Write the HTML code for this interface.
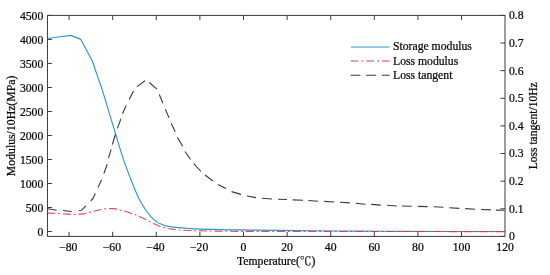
<!DOCTYPE html>
<html lang="en"><head><meta charset="utf-8"><title>DMA curves</title>
<style>html,body{margin:0;padding:0;background:#fff}body{width:550px;height:275px;overflow:hidden}svg{display:block}</style>
</head><body>
<svg width="550" height="275" viewBox="0 0 550 275" font-family="'Liberation Serif', 'Noto Serif CJK SC', serif" font-size="11.7" fill="#0a0a0a" stroke="#0a0a0a" stroke-width="0.24">
<rect width="550" height="275" fill="#fff" stroke="none"/>
<path d="M47.5,38.5 L58.5,37.0 L70.7,35.4 L80.8,39.4 L92.2,60.8 L102.4,90.4 L113.0,125.4 C114.8,131.2 120.2,149.8 123.8,160.4 C127.4,171.0 132.0,182.3 134.7,189.0 C137.4,195.7 138.2,197.1 140.0,200.6 C141.8,204.1 143.8,207.1 145.6,209.8 C147.4,212.5 149.2,214.8 151.0,216.8 C152.8,218.8 154.8,220.3 156.5,221.6 C158.2,222.8 159.7,223.6 161.5,224.3 C163.3,225.1 165.6,225.7 167.4,226.1 C169.2,226.5 170.7,226.8 172.5,227.0 C174.3,227.2 175.5,227.3 178.3,227.6 C181.1,227.8 185.6,228.2 189.2,228.5 C192.8,228.8 192.4,228.9 200.0,229.1 C207.6,229.3 221.7,229.7 235.0,229.9 C248.3,230.1 266.7,230.2 280.0,230.4 C293.3,230.6 301.7,230.7 315.0,230.8 C328.3,230.9 345.8,231.0 360.0,231.1 C374.2,231.2 385.0,231.3 400.0,231.4 C415.0,231.5 432.5,231.5 450.0,231.5 C467.5,231.5 495.8,231.5 505.0,231.5" fill="none" stroke="#2b96d0" stroke-width="1.15" stroke-linejoin="round"/>
<path d="M47.5,213.1 L54.3,213.3 L58.8,213.6 L63.0,213.8 L71.7,214.4 L74.3,214.5 L78.3,214.4 L84.8,213.6 L89.4,212.4 L93.0,211.5 L101.7,209.4 L104.9,208.8 L109.3,208.5 L113.0,208.6 L116.9,209.1 L120.7,210.2 L124.5,211.1 L132.2,213.6 L135.4,214.8 L139.3,216.4 L145.8,219.6 L149.6,221.6 L153.4,223.5 L159.8,226.3 L163.6,227.4 L168.0,228.5 L175.6,229.6 L179.2,230.0 L183.3,230.2 L190.9,230.5 L198.5,230.8 L206.7,231.0 L230.0,231.3 L280.0,231.5 L505.0,231.6" fill="none" stroke="#ee2a36" stroke-opacity="0.88" stroke-width="1.1" stroke-dasharray="8.0 2.92 1.79 2.92" stroke-dashoffset="0.31" stroke-linejoin="round"/>
<path d="M47.7,208.8 L56.5,210.2 M63.0,210.5 L71.7,211.5 M78.8,210.5 L81.5,210.2 L86.0,205.8 M90.7,200.8 L93.0,198.5 L95.3,193.5 M97.9,187.6 L101.7,179.7 M103.9,173.5 L107.2,164.3 M108.5,158.2 L111.1,149.4 M112.4,144.5 L115.5,134.0 M117.4,128.4 L121.0,118.6 M122.5,113.7 L126.2,105.6 M129.2,99.6 L133.5,91.0 M136.9,86.6 L145.1,80.7 M149.2,82.5 L156.9,89.1 M159.3,94.5 L162.9,103.2 M165.3,109.2 L169.1,117.9 M171.2,123.2 L175.2,131.8 M177.4,137.4 L182.6,146.2 M185.0,151.5 L190.5,159.5 M193.8,163.6 L201.0,171.5 M205.0,175.0 L213.0,181.0 M218.0,184.4 L226.0,188.6 M231.6,191.6 L241.0,194.4 M247.0,196.0 L256.0,197.6 M262.0,198.2 L272.0,199.0 M278.0,199.2 L287.0,199.5 M292.7,199.9 L303.0,200.3 M308.4,200.5 L318.2,201.2 M324.3,201.4 L334.1,202.0 M340.0,202.3 L349.8,202.9 M355.7,203.3 L365.5,204.2 M371.2,204.4 L380.8,205.1 M387.0,205.3 L396.7,206.0 M402.0,206.0 L411.8,206.2 M417.9,206.4 L427.5,206.6 M433.6,206.8 L443.5,207.3 M449.3,207.7 L459.4,208.4 M465.3,208.6 L475.1,209.2 M481.0,209.5 L490.8,209.9 M495.9,210.1 L504.6,210.3" fill="none" stroke="#3a3a3a" stroke-width="1.1" stroke-linejoin="round"/>
<rect x="47.45" y="15.4" width="457.55" height="221.0" fill="none" stroke="#3c3c3c" stroke-width="1"/>
<path d="M69.07,236.4 v-4.6 M69.07,15.4 v4.6 M112.68,236.4 v-4.6 M112.68,15.4 v4.6 M156.28,236.4 v-4.6 M156.28,15.4 v4.6 M199.89,236.4 v-4.6 M199.89,15.4 v4.6 M243.50,236.4 v-4.6 M243.50,15.4 v4.6 M287.11,236.4 v-4.6 M287.11,15.4 v4.6 M330.72,236.4 v-4.6 M330.72,15.4 v4.6 M374.32,236.4 v-4.6 M374.32,15.4 v4.6 M417.93,236.4 v-4.6 M417.93,15.4 v4.6 M461.54,236.4 v-4.6 M461.54,15.4 v4.6 M47.45,231.55 h4.6 M47.45,207.53 h4.6 M47.45,183.52 h4.6 M47.45,159.50 h4.6 M47.45,135.48 h4.6 M47.45,111.47 h4.6 M47.45,87.45 h4.6 M47.45,63.43 h4.6 M47.45,39.42 h4.6 M47.45,15.40 h4.6 M505.0,236.40 h-4.6 M505.0,208.78 h-4.6 M505.0,181.15 h-4.6 M505.0,153.53 h-4.6 M505.0,125.90 h-4.6 M505.0,98.28 h-4.6 M505.0,70.65 h-4.6 M505.0,43.03 h-4.6 M505.0,15.40 h-4.6" fill="none" stroke="#3c3c3c" stroke-width="1"/>
<text x="68.3" y="250.6" text-anchor="middle">−80</text>
<text x="111.9" y="250.6" text-anchor="middle">−60</text>
<text x="155.5" y="250.6" text-anchor="middle">−40</text>
<text x="199.1" y="250.6" text-anchor="middle">−20</text>
<text x="243.5" y="250.6" text-anchor="middle">0</text>
<text x="287.1" y="250.6" text-anchor="middle">20</text>
<text x="330.7" y="250.6" text-anchor="middle">40</text>
<text x="374.3" y="250.6" text-anchor="middle">60</text>
<text x="417.9" y="250.6" text-anchor="middle">80</text>
<text x="461.5" y="250.6" text-anchor="middle">100</text>
<text x="505.1" y="250.6" text-anchor="middle">120</text>
<text x="43.3" y="235.7" text-anchor="end">0</text>
<text x="43.3" y="211.6" text-anchor="end">500</text>
<text x="43.3" y="187.6" text-anchor="end">1000</text>
<text x="43.3" y="163.6" text-anchor="end">1500</text>
<text x="43.3" y="139.6" text-anchor="end">2000</text>
<text x="43.3" y="115.6" text-anchor="end">2500</text>
<text x="43.3" y="91.6" text-anchor="end">3000</text>
<text x="43.3" y="67.5" text-anchor="end">3500</text>
<text x="43.3" y="43.5" text-anchor="end">4000</text>
<text x="43.3" y="19.5" text-anchor="end">4500</text>
<text x="509" y="240.3">0</text>
<text x="509" y="212.7">0.1</text>
<text x="509" y="185.1">0.2</text>
<text x="509" y="157.4">0.3</text>
<text x="509" y="129.8">0.4</text>
<text x="509" y="102.2">0.5</text>
<text x="509" y="74.6">0.6</text>
<text x="509" y="46.9">0.7</text>
<text x="509" y="19.3">0.8</text>
<text x="276.2" y="264.7" text-anchor="middle">Temperature(℃)</text>
<text transform="translate(15.1,125.9) rotate(-90)" text-anchor="middle" textLength="100.6" lengthAdjust="spacingAndGlyphs">Modulus/10Hz(MPa)</text>
<text transform="translate(537,125.8) rotate(-90)" text-anchor="middle" textLength="87.1" lengthAdjust="spacingAndGlyphs">Loss tangent/10Hz</text>
<path d="M350.8,47 H389.6" stroke="#2b96d0" stroke-width="1.2" fill="none"/>
<path d="M350.8,61 H358.4 M361.2,61 h2 M366.2,61 H374 M377,61 h2 M382,61 H389.6" stroke="#ee3a43" stroke-width="1.1" fill="none"/>
<path d="M350.8,75.2 H360.4 M366.2,75.2 H376.2 M382,75.2 H389.7" stroke="#3a3a3a" stroke-width="1.05" fill="none"/>
<text x="393" y="50.3">Storage modulus</text>
<text x="393" y="64.9">Loss modulus</text>
<text x="393" y="79.1">Loss tangent</text>
</svg>
</body></html>
